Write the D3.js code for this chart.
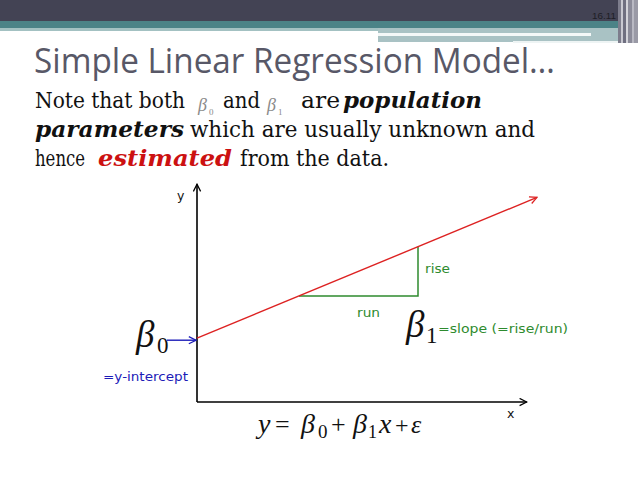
<!DOCTYPE html>
<html><head><meta charset="utf-8">
<script src="https://cdn.jsdelivr.net/npm/d3@7"></script>
<style>body{margin:0;background:#fff}svg{display:block}</style>
</head><body>
<script>
// ---- data (domain units) ----
const xDomain = [0, 10];
const yDomain = [0, 10];
const axisEnds = [9.7, 9.9];            // x-axis end, y-axis end
const interceptB0 = 2.9;                // beta0
const slopeB1 = 0.64;                   // beta1
const lineX = [0, 10];                  // regression line extent
const runX = [3, 6.5];                  // slope triangle run
const labels = {title:"Simple Linear Regression Model…", page:"16.11"};

const W = 638, H = 479;
const svg = d3.select("body").append("svg").attr("width", W).attr("height", H);

// ---- slide header ----
svg.append("rect").attr("x",0).attr("y",0).attr("width",W).attr("height",21).attr("fill","#434354");
svg.append("rect").attr("x",0).attr("y",21).attr("width",W).attr("height",7).attr("fill","#4b8387");
svg.append("rect").attr("x",0).attr("y",28).attr("width",W).attr("height",3).attr("fill","#a3c1c2");
svg.append("rect").attr("x",378).attr("y",28).attr("width",249).attr("height",14).attr("fill","#a9c2c4");
svg.append("rect").attr("x",378).attr("y",33).attr("width",213).attr("height",3).attr("fill","#f4f8f8");
svg.append("rect").attr("x",513).attr("y",41).attr("width",114).attr("height",2).attr("fill","#eef4f4");
[["#7d7d8c",618,3],["#c9c9d1",621,2],["#6f6f80",623,3],["#d4d4da",626,2],["#8b8b99",628,4],["#b9b9c3",632,2],["#9a9aa6",634,4]]
  .forEach(([c,x,w])=>svg.append("rect").attr("x",x).attr("y",0).attr("width",w).attr("height",43).attr("fill",c));
svg.append("text").attr("x",592).attr("y",19).attr("font-family","Liberation Sans Narrow, Liberation Sans, sans-serif")
  .attr("font-size",9).attr("fill","#1e1e26").attr("textLength",24).attr("lengthAdjust","spacingAndGlyphs").text(labels.page);

// ---- title ----
svg.append("text").attr("x",34).attr("y",73).attr("font-family","Open Sans, DejaVu Sans, sans-serif")
  .attr("font-size",35).attr("fill","#585867").attr("textLength",521).attr("lengthAdjust","spacingAndGlyphs")
  .text(labels.title);

// ---- body text ----
const serif = "DejaVu Serif, Liberation Serif, serif";
const seg = [
  {t:"Note that both",x:35,y:108,w:150},
  {t:"and",x:223,y:108,w:37},
  {t:"are",x:301,y:108,w:39},
  {t:"population",x:343,y:108,w:139,b:1},
  {t:"parameters",x:35,y:137,w:149,b:1},
  {t:"which are usually unknown and",x:190,y:137,w:345},
  {t:"hence",x:35,y:166,w:50},
  {t:"estimated",x:98,y:166,w:134,b:1,c:"#cc1111"},
  {t:"from the data.",x:240,y:166,w:149}
];
seg.forEach(s=>{
  svg.append("text").attr("x",s.x).attr("y",s.y).attr("font-family",serif)
    .attr("font-size",22).attr("fill",s.c||"#111")
    .attr("font-weight",s.b?"bold":"normal").attr("font-style",s.b?"italic":"normal")
    .attr("textLength",s.w).attr("lengthAdjust","spacingAndGlyphs").text(s.t);
});
// small gray betas inline
[[198,"0"],[267,"1"]].forEach(([x,sub])=>{
  svg.append("text").attr("x",x).attr("y",111).attr("font-family","Liberation Serif, serif").attr("font-style","italic")
    .attr("font-size",18).attr("fill","#8a8a8a").text("β");
  svg.append("text").attr("x",x+11).attr("y",115).attr("font-family","Liberation Serif, serif")
    .attr("font-size",9).attr("fill","#8a8a8a").text(sub);
});

// ---- chart ----
const x = d3.scaleLinear().domain(xDomain).range([197, 537]);
const y = d3.scaleLinear().domain(yDomain).range([402, 182]);

const defs = svg.append("defs");
function marker(id, color){
  defs.append("marker").attr("id",id).attr("viewBox","0 0 10 10").attr("refX",9).attr("refY",5)
    .attr("markerWidth",9).attr("markerHeight",9).attr("markerUnits","userSpaceOnUse").attr("orient","auto")
    .append("path").attr("d","M1,1 L9,5 L1,9").attr("fill","none").attr("stroke",color).attr("stroke-width",1.4);
}
marker("arrK","#000"); marker("arrR","#dd2222"); marker("arrB","#1c1cb8");

const ln = d3.line().x(d=>x(d[0])).y(d=>y(d[1]));
// axes
svg.append("path").attr("d",ln([[0,0],[0,axisEnds[1]]])).attr("stroke","#000").attr("stroke-width",1.6).attr("fill","none").attr("marker-end","url(#arrK)");
svg.append("path").attr("d",ln([[0,0],[axisEnds[0],0]])).attr("stroke","#000").attr("stroke-width",1.6).attr("fill","none").attr("marker-end","url(#arrK)");

// slope triangle
const f = v => interceptB0 + slopeB1*v;
svg.append("path").attr("d",ln([[runX[0],f(runX[0])],[runX[1],f(runX[0])],[runX[1],f(runX[1])]]))
  .attr("stroke","#2e8b2e").attr("stroke-width",1.5).attr("fill","none");
// regression line
svg.append("path").attr("d",ln(lineX.map(v=>[v,f(v)]))).attr("stroke","#dd2222").attr("stroke-width",1.4)
  .attr("fill","none").attr("marker-end","url(#arrR)");
// intercept arrow
svg.append("line").attr("x1",167).attr("x2",x(0)-1).attr("y1",y(interceptB0)+2).attr("y2",y(interceptB0)+2)
  .attr("stroke","#1c1cb8").attr("stroke-width",1.4).attr("marker-end","url(#arrB)");

const sans = "DejaVu Sans, Verdana, sans-serif";
function lab(t,px,py,c,w){
  const e = svg.append("text").attr("x",px).attr("y",py).attr("font-family",sans).attr("font-size",12.5).attr("fill",c).text(t);
  if(w) e.attr("textLength",w).attr("lengthAdjust","spacingAndGlyphs");
}
lab("y",177,200,"#111");
lab("x",507,418,"#111");
lab("rise",x(runX[1])+7,273,"#2e8b2e",25);
lab("run",357,317,"#2e8b2e",23);
lab("=slope (=rise/run)",438,333,"#2e8b2e",130);
lab("=y-intercept",103,381,"#1c1cb8",85);

const tms = "Liberation Serif, Times New Roman, serif";
function g(t,px,py,sz,it){
  svg.append("text").attr("x",px).attr("y",py).attr("font-family",tms).attr("font-size",sz)
    .attr("font-style",it?"italic":"normal").attr("fill","#111").text(t);
}
// beta0 label
g("β",136,347,37,1); g("0",157,353,23,0);
// beta1 label
g("β",406,337,37,1); g("1",426,343,23,0);
// equation
g("y",258,433,28,1); g("=",275,433,26,0);
g("β",301,433,28,1); g("0",318,438,19,0);
g("+",331,433,26,0);
g("β",353,433,28,1); g("1",368,438,18,0); g("x",379,433,28,1);
g("+",395,433,24,0); g("ε",411,433,26,1);
</script>
</body></html>
